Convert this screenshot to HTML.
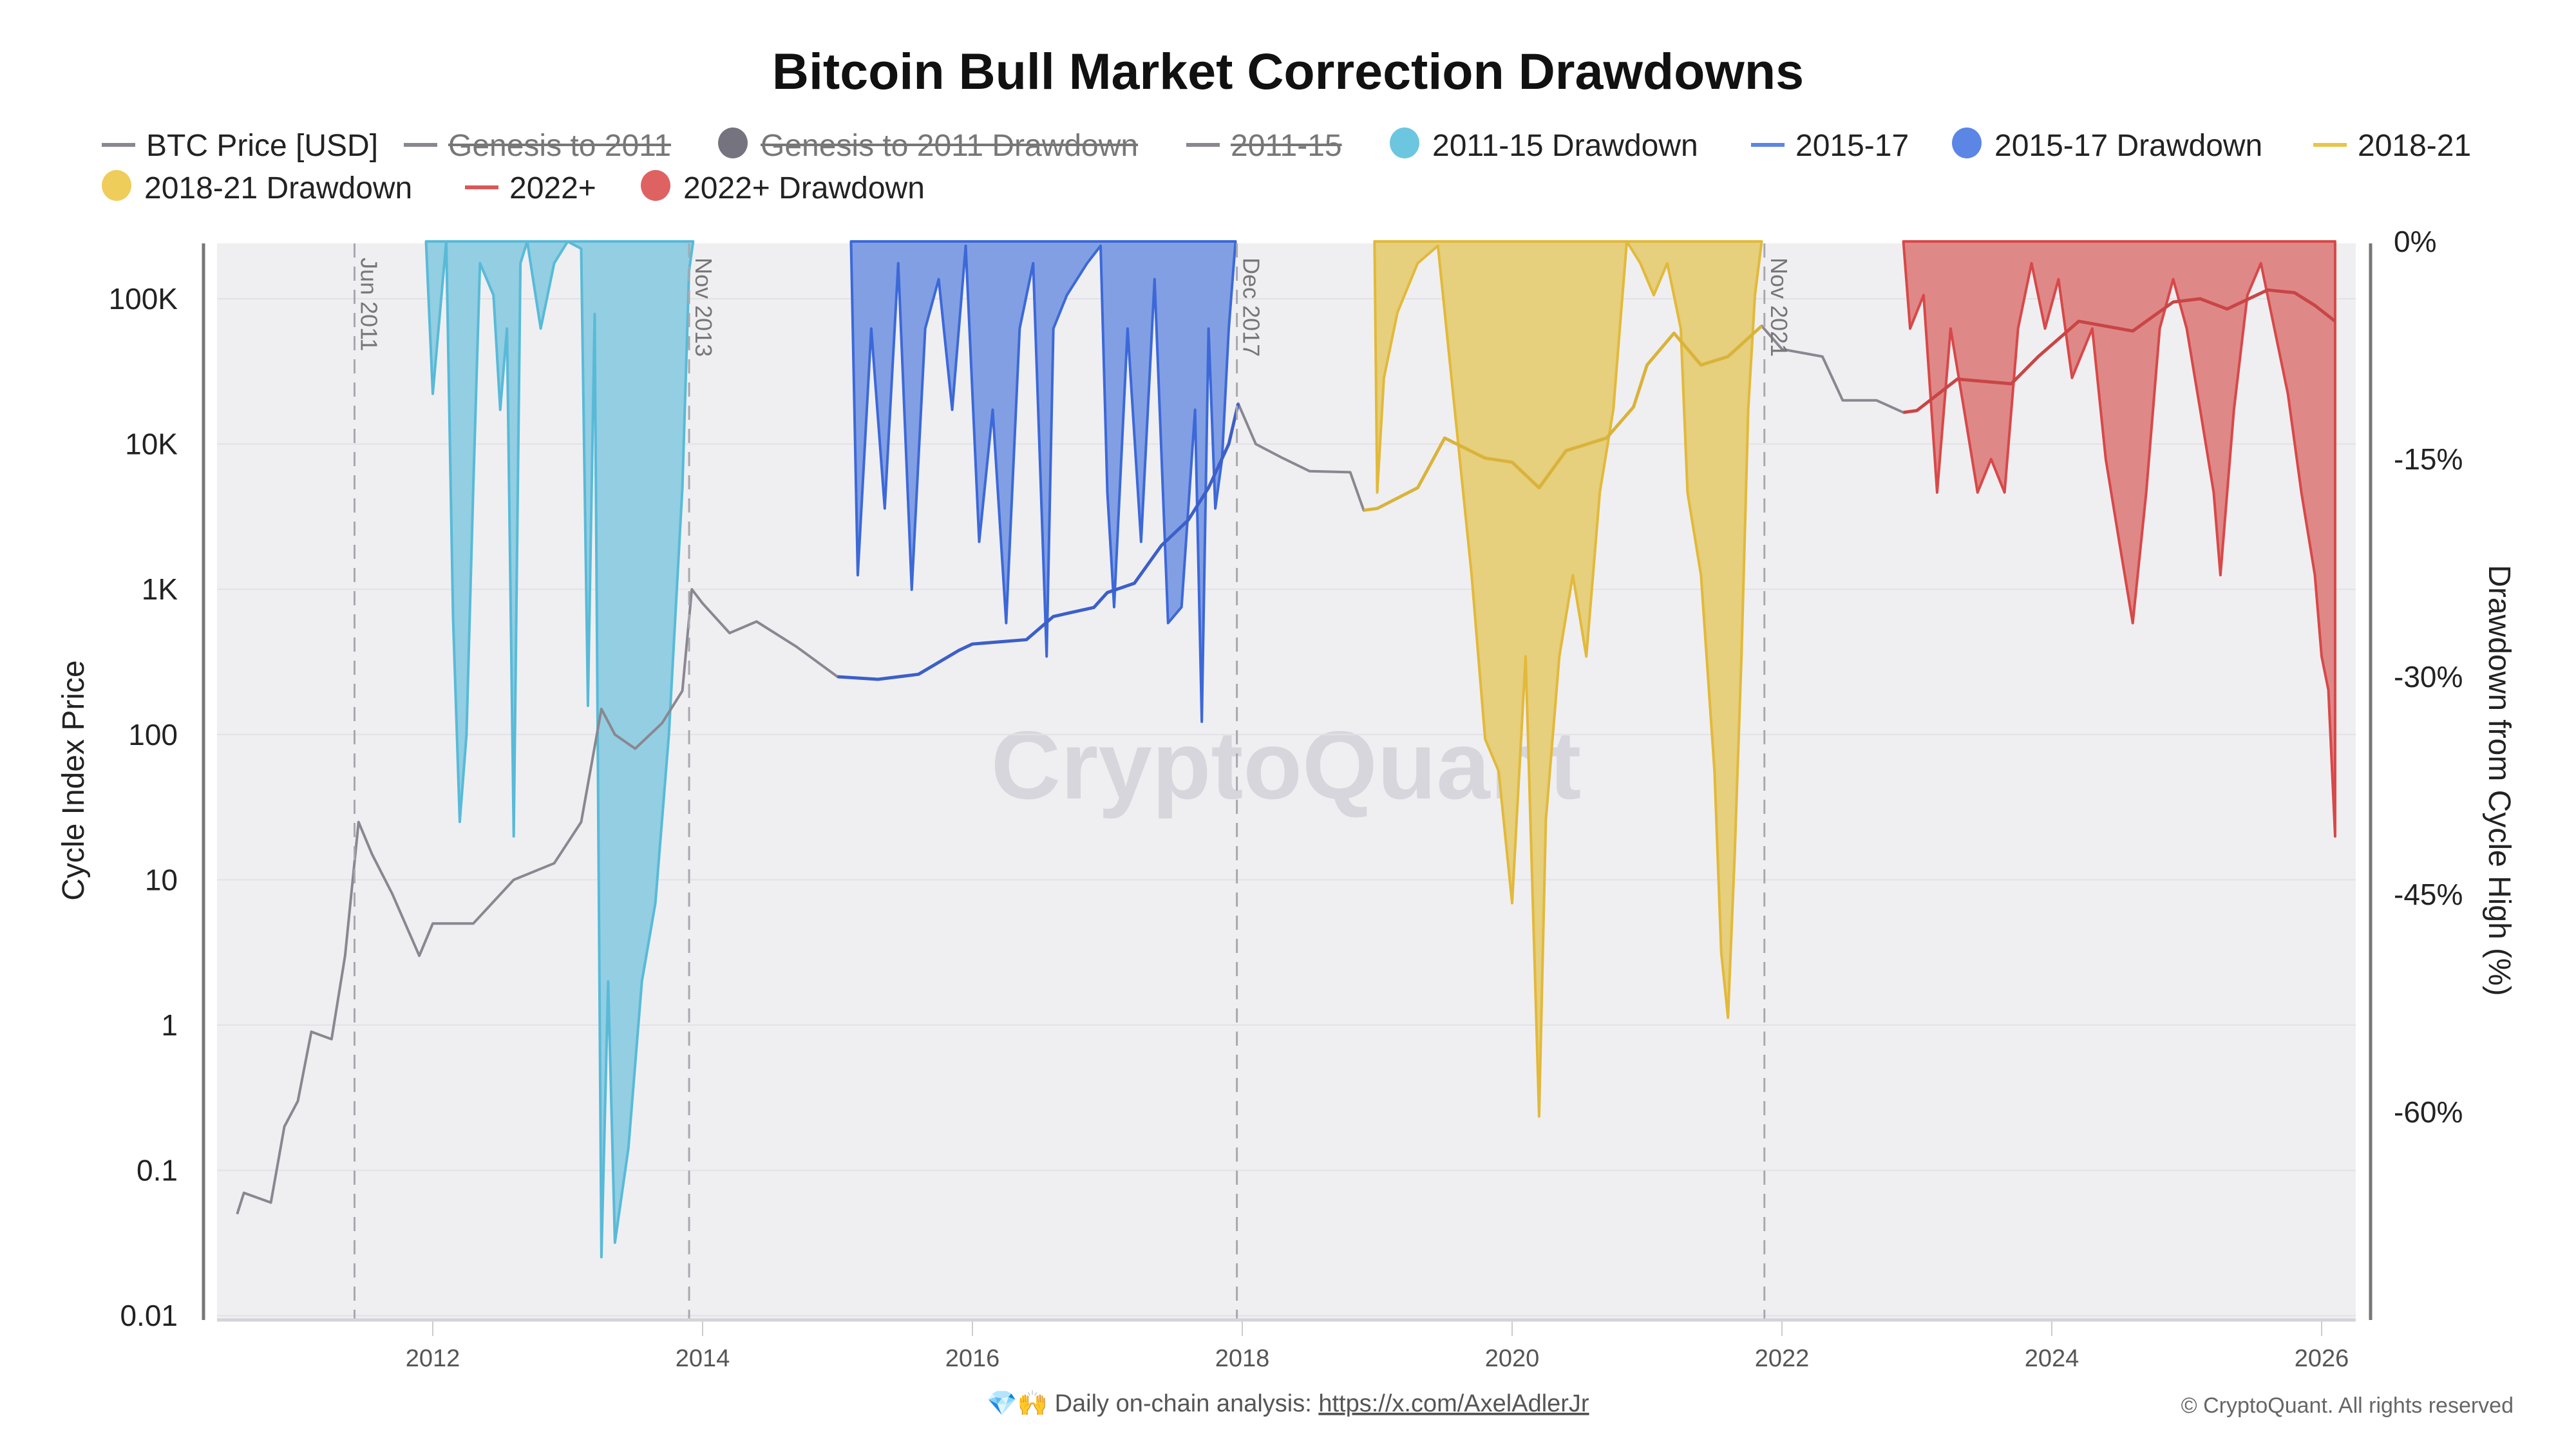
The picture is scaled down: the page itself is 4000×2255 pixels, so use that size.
<!DOCTYPE html>
<html><head><meta charset="utf-8"><style>
html,body{margin:0;padding:0;background:#fff;}
svg text{font-family:"Liberation Sans",sans-serif;}
</style></head><body>
<svg id="chart" width="4000" height="2250" viewBox="0 0 4000 2250" xmlns="http://www.w3.org/2000/svg">
<rect width="4000" height="2250" fill="#fff"/>
<text x="2000" y="138" text-anchor="middle" font-size="79" font-weight="bold" fill="#111">Bitcoin Bull Market Correction Drawdowns</text>
<g id="legend" font-size="48" fill="#222"></g>
<rect x="337" y="378" width="3321" height="1672" fill="#efeff2"/>
<text x="1997" y="1240" text-anchor="middle" font-size="150" font-weight="bold" fill="#d6d6dc">CryptoQuant</text>
<g id="grid"></g>
<g id="fills"></g>
<g id="lines"></g>
<g id="annot"></g>
<g id="axes"></g>
<text x="2000" y="2192" text-anchor="middle" font-size="38" fill="#555">💎🙌 Daily on-chain analysis: <tspan text-decoration="underline">https://x.com/AxelAdlerJr</tspan></text>
<text x="3903" y="2194" text-anchor="end" font-size="34" fill="#666">© CryptoQuant. All rights reserved</text>
</svg>
<script>
const NS="http://www.w3.org/2000/svg";
// ---- data ----
const priceDates=[2010.55,2010.6,2010.8,2010.9,2011.0,2011.1,2011.25,2011.35,2011.45,2011.55,2011.7,2011.9,2012.0,2012.3,2012.6,2012.9,2013.1,2013.25,2013.35,2013.5,2013.7,2013.85,2013.92,2014.0,2014.2,2014.4,2014.7,2015.0,2015.3,2015.6,2015.9,2016.0,2016.4,2016.6,2016.9,2017.0,2017.2,2017.4,2017.6,2017.75,2017.9,2017.97,2018.1,2018.3,2018.5,2018.8,2018.9,2019.0,2019.3,2019.5,2019.8,2020.0,2020.2,2020.4,2020.7,2020.9,2021.0,2021.2,2021.4,2021.6,2021.85,2022.0,2022.3,2022.45,2022.7,2022.9,2023.0,2023.3,2023.7,2023.9,2024.2,2024.6,2024.9,2025.1,2025.3,2025.6,2025.8,2025.95,2026.1];
const priceValues=[0.05,0.07,0.06,0.2,0.3,0.9,0.8,3,25,15,8,3,5,5,10,13,25,150,100,80,120,200,1000,800,500,600,400,250,240,260,380,420,450,650,750,950,1100,2000,3000,5000,10000,19000,10000,8000,6500,6400,3500,3600,5000,11000,8000,7500,5000,9000,11000,18000,35000,58000,35000,40000,65000,45000,40000,20000,20000,16500,17000,28000,26000,40000,70000,60000,95000,100000,85000,115000,110000,90000,70000];
const c1Dates=[2011.95,2012.0,2012.1,2012.15,2012.2,2012.25,2012.3,2012.35,2012.45,2012.5,2012.55,2012.6,2012.65,2012.7,2012.8,2012.9,2013.0,2013.1,2013.15,2013.2,2013.25,2013.3,2013.35,2013.45,2013.55,2013.65,2013.75,2013.85,2013.9,2013.93];
const c1DD=[0,-10.5,0,-25.8,-40,-34,-17,-1.5,-3.7,-11.6,-6,-41,-1.5,0,-6,-1.5,0,-0.5,-32,-5,-70,-51,-69,-62.5,-51,-45.6,-34,-17,-2,0];
const c2Dates=[2015.1,2015.15,2015.25,2015.35,2015.45,2015.55,2015.65,2015.75,2015.85,2015.95,2016.05,2016.15,2016.25,2016.35,2016.45,2016.55,2016.6,2016.7,2016.85,2016.95,2017.0,2017.05,2017.15,2017.25,2017.35,2017.45,2017.55,2017.65,2017.7,2017.75,2017.8,2017.85,2017.9,2017.95];
const c2DD=[0,-23,-6,-18.4,-1.5,-24,-6,-2.6,-11.6,-0.3,-20.7,-11.6,-26.3,-6,-1.5,-28.6,-6,-3.7,-1.5,-0.3,-17.3,-25.2,-6,-20.7,-2.6,-26.3,-25.2,-11.6,-33.1,-6,-18.4,-15,-6,0];
const c3Dates=[2018.98,2019.0,2019.05,2019.15,2019.3,2019.45,2019.6,2019.7,2019.8,2019.9,2020.0,2020.1,2020.2,2020.25,2020.35,2020.45,2020.55,2020.65,2020.75,2020.85,2020.95,2021.05,2021.15,2021.25,2021.3,2021.4,2021.5,2021.55,2021.6,2021.65,2021.7,2021.75,2021.8,2021.85];
const c3DD=[0,-17.3,-9.4,-4.9,-1.5,-0.3,-13.9,-23,-34.3,-36.5,-45.6,-28.6,-60.3,-39.9,-28.6,-23,-28.6,-17.3,-11.6,0,-1.5,-3.7,-1.5,-6,-17.3,-23,-36.5,-49,-53.5,-42.2,-28.6,-11.6,-3.7,0];
const c4Dates=[2022.9,2022.95,2023.05,2023.15,2023.25,2023.35,2023.45,2023.55,2023.65,2023.75,2023.85,2023.95,2024.05,2024.15,2024.3,2024.4,2024.5,2024.6,2024.7,2024.8,2024.9,2025.0,2025.1,2025.2,2025.25,2025.35,2025.45,2025.55,2025.65,2025.75,2025.85,2025.95,2026.0,2026.05,2026.1];
const c4DD=[0,-6,-3.7,-17.3,-6,-11.6,-17.3,-15,-17.3,-6,-1.5,-6,-2.6,-9.4,-6,-15,-20.7,-26.3,-17.3,-6,-2.6,-6,-11.6,-17.3,-23,-11.6,-3.7,-1.5,-6,-10.5,-17.3,-23,-28.6,-30.9,-41];
const yearTicks=[2012,2014,2016,2018,2020,2022,2024,2026];
const priceTicks=[0.01,0.1,1,10,100,1000,10000,100000];
const priceTickLabels=["0.01","0.1","1","10","100","1K","10K","100K"];
const ddTicks=[0,-15,-30,-45,-60];
const ddTickLabels=["0%","-15%","-30%","-45%","-60%"];
const events=[2011.42,2013.9,2017.96,2021.87];
const eventLabels=["Jun 2011","Nov 2013","Dec 2017","Nov 2021"];
// ---- scales ----
const X0=337,X1=3658,Y0=378,Y1=2050;
const xs=t=>2348+(t-2020)*209.5;
const yp=v=>464+(5-Math.log10(v))*225.6;
const yd=d=>375+(-d)/15*338;
function mk(tag,attrs,parent){const e=document.createElementNS(NS,tag);for(const k in attrs)e.setAttribute(k,attrs[k]);parent.appendChild(e);return e;}
const grid=document.getElementById('grid'),fills=document.getElementById('fills'),lines=document.getElementById('lines'),annot=document.getElementById('annot'),axes=document.getElementById('axes');
priceTicks.forEach((v,i)=>{
  const g=mk('line',{x1:X0,x2:X1,y1:yp(v),y2:yp(v),stroke:'#e2e2e6','stroke-width':2},grid);
  
  
  const t=mk('text',{x:276,y:yp(v)+16,'text-anchor':'end','font-size':46,fill:'#222'},axes);t.textContent=priceTickLabels[i];
  
  
});
ddTicks.forEach((d,i)=>{
  const t=mk('text',{x:3717,y:yd(d)+16,'font-size':46,fill:'#222'},axes);t.textContent=ddTickLabels[i];
  
  
});
yearTicks.forEach(y=>{
  const l=mk('line',{x1:xs(y),x2:xs(y),y1:Y1+2,y2:Y1+25,stroke:'#ccc','stroke-width':2},axes);
  
  
  const t=mk('text',{x:xs(y),y:2122,'text-anchor':'middle','font-size':38,fill:'#555'},axes);t.textContent=y;
  
  
});
function area(dates,dd,fill,stroke,name){
  let p=`M${xs(dates[0])},${yd(0)}`;dates.forEach((t,i)=>p+=`L${xs(t)},${yd(dd[i])}`);p+=`L${xs(dates[dates.length-1])},${yd(0)}Z`;
  const a=mk('path',{d:p,fill:fill,stroke:stroke,'stroke-width':4,'stroke-linejoin':'round'},fills);
  
  
}
area(c1Dates,c1DD,'#93cee2','#58bad8','drawdown-2011-15');
area(c2Dates,c2DD,'#829fe4','#3c68d8','drawdown-2015-17');
area(c3Dates,c3DD,'#e6cf7d','#e2b93a','drawdown-2018-21');
area(c4Dates,c4DD,'#df8888','#d84848','drawdown-2022-plus');
function pline(a,b,color,w,name){
  let p='';priceDates.forEach((t,i)=>{if(t>=a&&t<=b)p+=(p?'L':'M')+xs(t)+','+yp(priceValues[i]);});
  const l=mk('path',{d:p,fill:'none',stroke:color,'stroke-width':w,'stroke-linejoin':'round'},lines);
  
  
}
pline(2010,2027,'#8a8790',4,'btc-price-line');
pline(2015.0,2017.97,'#3c5fc8',5,'cycle-2015-17-line');
pline(2018.9,2021.85,'#d9b33a',5,'cycle-2018-21-line');
pline(2022.9,2026.2,'#c94545',5,'cycle-2022-plus-line');
events.forEach((t,i)=>{
  const l=mk('line',{x1:xs(t),x2:xs(t),y1:Y0,y2:Y1,stroke:'#a8a8b0','stroke-width':3,'stroke-dasharray':'22,14'},annot);
  
  
  const tx=mk('text',{x:xs(t)+10,y:400,'font-size':36,fill:'#777',transform:`rotate(90 ${xs(t)+10} 400)`},annot);tx.textContent=eventLabels[i];
  
  
});
mk('line',{x1:316,x2:316,y1:Y0,y2:Y1,stroke:'#777','stroke-width':5},axes);
mk('line',{x1:3681,x2:3681,y1:Y0,y2:Y1,stroke:'#777','stroke-width':5},axes);
mk('line',{x1:X0,x2:X1,y1:Y1,y2:Y1,stroke:'#d4d4d8','stroke-width':5},axes);
const yt=mk('text',{x:130,y:1212,'text-anchor':'middle','font-size':48,fill:'#222',transform:'rotate(-90 130 1212)'},axes);yt.textContent='Cycle Index Price';


const yt2=mk('text',{x:3865,y:1212,'text-anchor':'middle','font-size':48,fill:'#222',transform:'rotate(90 3865 1212)'},axes);yt2.textContent='Drawdown from Cycle High (%)';


// legend (x = line start for lines, circle centre for dots)
const leg=document.getElementById('legend');
const items=[
 ['line','#8a8790','BTC Price [USD]',158,225,false],
 ['line','#8a8790','Genesis to 2011',627,225,true],
 ['dot','#74737f','Genesis to 2011 Drawdown',1138,222,true],
 ['line','#8a8790','2011-15',1842,225,true],
 ['dot','#6cc6e0','2011-15 Drawdown',2181,222,false],
 ['line','#5b86e6','2015-17',2719,225,false],
 ['dot','#5b86e6','2015-17 Drawdown',3054,222,false],
 ['line','#e8c54b','2018-21',3592,225,false],
 ['dot','#efcd5a','2018-21 Drawdown',181,288,false],
 ['line','#d85858','2022+',722,291,false],
 ['dot','#df6262','2022+ Drawdown',1018,288,false]];
items.forEach(it=>{
  const [k,c,label,x,y,off]=it;
  const g=mk('g',{},leg);
  
  
  if(k==='line') mk('line',{x1:x,x2:x+52,y1:y,y2:y,stroke:c,'stroke-width':6},g);
  else mk('ellipse',{cx:x,cy:y,rx:23,ry:24,fill:c},g);
  const tx=x+(k==='line'?69:43);
  const t=mk('text',{x:tx,y:(k==='line'?y:y+3)+17,'font-size':48,fill:off?'#777':'#222'},g);t.textContent=label;
  if(off){const w=t.getComputedTextLength();mk('line',{x1:tx,x2:tx+w,y1:(k==='line'?y:y+3),y2:(k==='line'?y:y+3),stroke:'#777','stroke-width':4},g);}
});
</script>
</body></html>
